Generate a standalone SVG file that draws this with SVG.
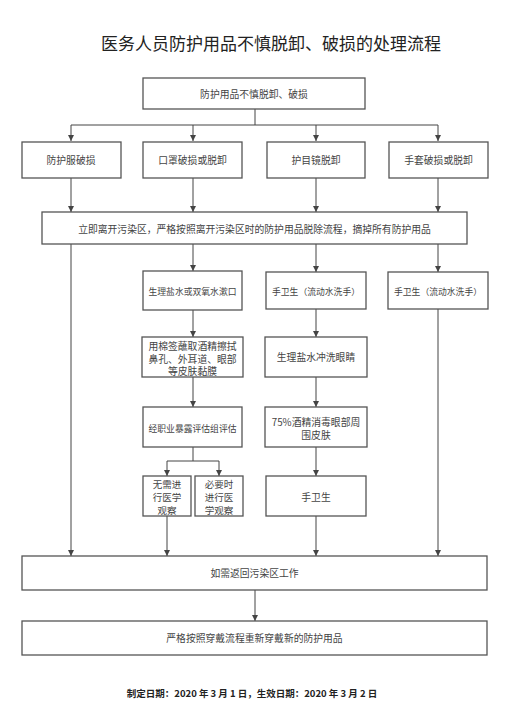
<svg xmlns="http://www.w3.org/2000/svg" width="527" height="705" viewBox="0 0 527 705">
<style>
.box{fill:#fff;stroke:#555;stroke-width:1.3}
.t{font-family:"Noto Sans CJK SC","Liberation Sans",sans-serif;font-size:9.8px;fill:#444;text-anchor:middle;dominant-baseline:central}
.s{font-size:8.8px}
.t2{font-family:"Noto Sans CJK SC","Liberation Sans",sans-serif;font-size:9.5px;fill:#444;text-anchor:middle;dominant-baseline:central}
.ln{fill:none;stroke:#444;stroke-width:1}
</style>
<defs>
<marker id="ah" viewBox="0 0 6 6" refX="6" refY="3" markerWidth="6" markerHeight="6" markerUnits="userSpaceOnUse" orient="auto">
<path d="M0,0 L6,3 L0,6 z" fill="#444"/>
</marker>
</defs>
<rect width="527" height="705" fill="#fff"/>
<text x="271" y="42" font-family="'Noto Sans CJK SC',sans-serif" font-size="17" fill="#222" text-anchor="middle" dominant-baseline="central">医务人员防护用品不慎脱卸、破损的处理流程</text>

<g id="connectors">
<path class="ln" d="M255,109 V125 M71,125 H438"/>
<path class="ln" d="M71,125 V141" marker-end="url(#ah)"/>
<path class="ln" d="M193,125 V141" marker-end="url(#ah)"/>
<path class="ln" d="M316,125 V141" marker-end="url(#ah)"/>
<path class="ln" d="M438,125 V141" marker-end="url(#ah)"/>
<path class="ln" d="M71,178 V212" marker-end="url(#ah)"/>
<path class="ln" d="M193,178 V212" marker-end="url(#ah)"/>
<path class="ln" d="M316,178 V212" marker-end="url(#ah)"/>
<path class="ln" d="M438,178 V212" marker-end="url(#ah)"/>
<path class="ln" d="M71,244 V556" marker-end="url(#ah)"/>
<path class="ln" d="M193,244 V271" marker-end="url(#ah)"/>
<path class="ln" d="M316,244 V272" marker-end="url(#ah)"/>
<path class="ln" d="M438,244 V272" marker-end="url(#ah)"/>
<path class="ln" d="M438,309 V556" marker-end="url(#ah)"/>
<path class="ln" d="M193,310 V337" marker-end="url(#ah)"/>
<path class="ln" d="M316,309 V337" marker-end="url(#ah)"/>
<path class="ln" d="M193,377 V407" marker-end="url(#ah)"/>
<path class="ln" d="M316,377 V407" marker-end="url(#ah)"/>
<path class="ln" d="M193,447 V461 M167,461 H219"/>
<path class="ln" d="M167,461 V476" marker-end="url(#ah)"/>
<path class="ln" d="M219,461 V476" marker-end="url(#ah)"/>
<path class="ln" d="M316,447 V476" marker-end="url(#ah)"/>
<path class="ln" d="M167,516 V556" marker-end="url(#ah)"/>
<path class="ln" d="M316,516 V556" marker-end="url(#ah)"/>
<path class="ln" d="M255,590 V621" marker-end="url(#ah)"/>
</g>

<g id="n_top"><rect class="box" x="143" y="78" width="222" height="31"/><text class="t" x="254" y="94">防护用品不慎脱卸、破损</text></g>
<g id="n_gown"><rect class="box" x="22" y="142" width="99" height="36"/><text class="t" x="71" y="160">防护服破损</text></g>
<g id="n_mask"><rect class="box" x="143" y="142" width="99" height="36"/><text class="t" x="192.5" y="160">口罩破损或脱卸</text></g>
<g id="n_goggle"><rect class="box" x="267" y="142" width="98" height="36"/><text class="t" x="316" y="160">护目镜脱卸</text></g>
<g id="n_glove"><rect class="box" x="389" y="142" width="99" height="36"/><text class="t" x="438.5" y="160">手套破损或脱卸</text></g>
<g id="n_leave"><rect class="box" x="42" y="212" width="425" height="32"/><text class="t" x="254.5" y="229">立即离开污染区，严格按照离开污染区时的防护用品脱除流程，摘掉所有防护用品</text></g>
<g id="n_rinse"><rect class="box" x="143" y="271" width="99" height="39"/><text class="t s" x="192.5" y="291">生理盐水或双氧水漱口</text></g>
<g id="n_hand1"><rect class="box" x="266" y="272" width="100" height="37"/><text class="t s" x="316" y="291">手卫生（流动水洗手）</text></g>
<g id="n_hand2"><rect class="box" x="388" y="272" width="100" height="37"/><text class="t s" x="438" y="291">手卫生（流动水洗手）</text></g>
<g id="n_swab"><rect class="box" x="142" y="337" width="101" height="40"/><text class="t" x="192.5" y="346">用棉签蘸取酒精擦拭</text><text class="t" x="192.5" y="358.5">鼻孔、外耳道、眼部</text><text class="t" x="192.5" y="371">等皮肤黏膜</text></g>
<g id="n_eyewash"><rect class="box" x="265" y="337" width="102" height="40"/><text class="t" x="316" y="357">生理盐水冲洗眼睛</text></g>
<g id="n_assess"><rect class="box" x="143" y="407" width="99" height="40"/><text class="t s" x="192.5" y="428">经职业暴露评估组评估</text></g>
<g id="n_alcohol"><rect class="box" x="265" y="407" width="102" height="40"/><text class="t" x="316" y="421.5">75%酒精消毒眼部周</text><text class="t" x="316" y="434.5">围皮肤</text></g>
<g id="n_noobs"><rect class="box" x="143" y="476" width="48" height="40"/><text class="t2" x="167" y="483.5">无需进</text><text class="t2" x="167" y="496.5">行医学</text><text class="t2" x="167" y="509.5">观察</text></g>
<g id="n_obs"><rect class="box" x="195" y="476" width="48" height="40"/><text class="t2" x="219" y="483.5">必要时</text><text class="t2" x="219" y="496.5">进行医</text><text class="t2" x="219" y="509.5">学观察</text></g>
<g id="n_hand3"><rect class="box" x="266" y="476" width="100" height="40"/><text class="t" x="316" y="497">手卫生</text></g>
<g id="n_return"><rect class="box" x="22" y="556" width="465" height="34"/><text class="t" x="254.5" y="573">如需返回污染区工作</text></g>
<g id="n_redon"><rect class="box" x="22" y="621" width="465" height="34"/><text class="t" x="254.5" y="638">严格按照穿戴流程重新穿戴新的防护用品</text></g>
<text x="252" y="693" font-family="'Noto Sans CJK SC',sans-serif" font-size="9.5" font-weight="bold" fill="#222" text-anchor="middle" dominant-baseline="central">制定日期：2020 年 3 月 1 日，生效日期：2020 年 3 月 2 日</text>
</svg>
